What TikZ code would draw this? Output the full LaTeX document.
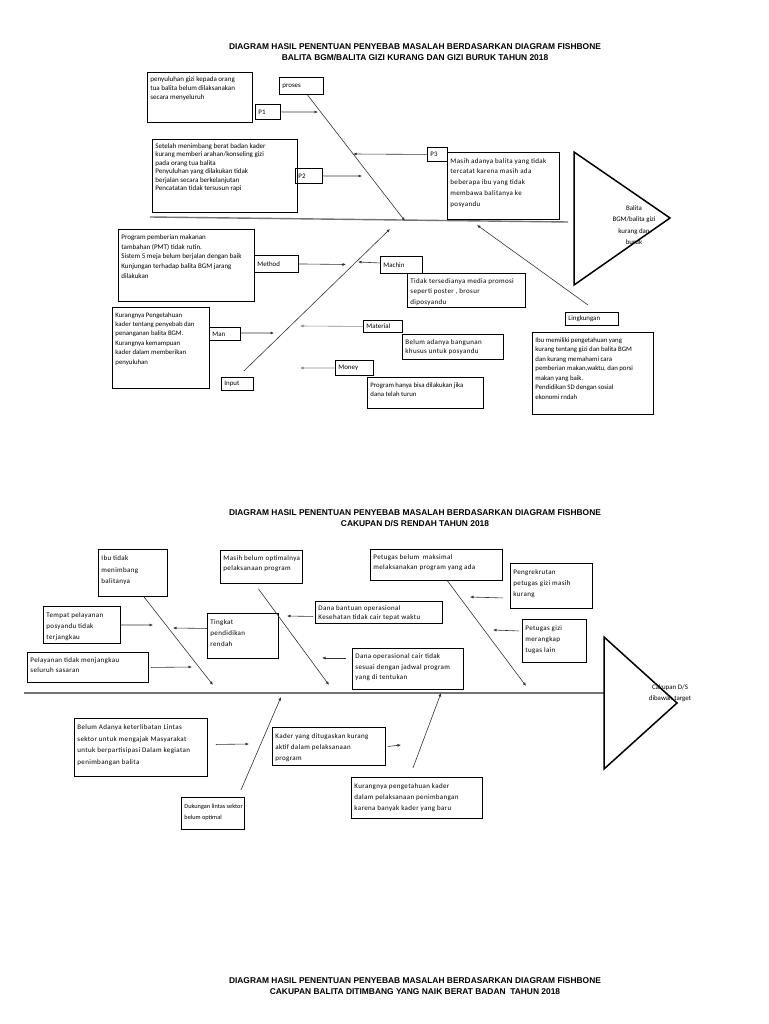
\documentclass[tikz,border=0pt]{standalone}
\usepackage{fontspec}
\setmainfont{Carlito}
\newfontfamily\titlefont{Liberation Sans}
\newfontfamily\spf[LetterSpace=5]{Carlito}
\usetikzlibrary{arrows.meta}
\newcommand\bt[5]{\parbox[c][\dimexpr#2pt-6pt\relax][t]{\dimexpr#1pt-6pt\relax}{\fontsize{#3}{#4}\selectfont\begin{tabular}[t]{@{}l@{}}#5\end{tabular}}}
\newcommand\bts[5]{\parbox[c][\dimexpr#2pt-6pt\relax][t]{\dimexpr#1pt-6pt\relax}{\spf\fontsize{#3}{#4}\selectfont\begin{tabular}[t]{@{}l@{}}#5\end{tabular}}}
\newcommand\lb[3]{\parbox[c][\dimexpr#2pt-6pt\relax][c]{\dimexpr#1pt-6pt\relax}{\fontsize{6.9}{9}\selectfont #3}}
\tikzset{
 bx/.style={draw=black, line width=0.9pt, inner sep=3pt, anchor=north west},
 arr/.style={draw=black!80, line width=0.6pt, -{Latex[length=3.5pt,width=3pt]}},
 garr/.style={draw=black!45, line width=0.6pt, -{Latex[length=3.5pt,width=3pt]}},
 spine/.style={draw=black!55, line width=1.4pt},
 tri/.style={draw=black, line width=1.5pt},
 ttl/.style={font=\titlefont\bfseries\fontsize{8.4}{11}\selectfont, align=center},
 tritext/.style={font=\fontsize{6.9}{11.5}\selectfont, align=center}
}
\begin{document}
\begin{tikzpicture}[x=1pt,y=-1pt]
\useasboundingbox[fill=white] (0,0) rectangle (768,1024);

% ---------- titles ----------
\node[ttl] (t1) at (415,52.5) {DIAGRAM HASIL PENENTUAN PENYEBAB MASALAH BERDASARKAN DIAGRAM FISHBONE\\BALITA BGM/BALITA GIZI KURANG DAN GIZI BURUK TAHUN 2018};
\node[ttl] (t2) at (415,518) {DIAGRAM HASIL PENENTUAN PENYEBAB MASALAH BERDASARKAN DIAGRAM FISHBONE\\CAKUPAN D/S RENDAH TAHUN 2018};
\node[ttl] (t3) at (415,986.5) {DIAGRAM HASIL PENENTUAN PENYEBAB MASALAH BERDASARKAN DIAGRAM FISHBONE\\CAKUPAN BALITA DITIMBANG YANG NAIK BERAT BADAN\ \ TAHUN 2018};

% ---------- top fishbone ----------
\coordinate (sA) at (150,217);
\coordinate (sB) at (568,222);
\draw[spine] (sA) -- (sB);
\draw[tri] (574,152) coordinate (h1) -- (670,218) coordinate (h2) -- (574,285) coordinate (h3) -- cycle;
\node[tritext] (head1) at (634,225) {Balita\\BGM/balita gizi\\kurang dan\\buruk};

\node[bx] (b1) at (147,72) {\bt{105}{50}{7}{9}{penyuluhan gizi kepada orang\\tua balita belum dilaksanakan\\secara menyeluruh}};
\node[bx] (proses) at (279,77) {\lb{44}{17}{proses}};
\node[bx] (P1) at (255,104) {\lb{25}{15}{P1}};
\node[bx] (b2) at (152,139) {\bt{145}{73}{7}{8.5}{Setelah menimbang berat badan kader\\kurang memberi arahan/konseling gizi\\pada orang tua balita\\Penyuluhan yang dilakukan tidak\\berjalan secara berkelanjutan\\Pencatatan tidak tersusun rapi}};
\node[bx] (P2) at (295,168) {\lb{27}{15}{P2}};
\node[bx] (P3) at (427,147) {\lb{20}{14}{P3}};
\node[bx] (b3) at (447,152) {\bts{112}{67}{7}{10.8}{Masih adanya balita yang tidak\\tercatat karena masih ada\\beberapa ibu yang tidak\\membawa balitanya ke\\posyandu}};

\node[bx] (b4) at (118,229) {\bt{136}{72}{7}{9.8}{Program pemberian makanan\\tambahan (PMT) tidak rutin.\\Sistem 5 meja belum berjalan dengan baik\\Kunjungan terhadap balita BGM jarang\\dilakukan}};
\node[bx] (method) at (254,255) {\lb{44}{17}{Method}};
\node[bx] (machin) at (380,256) {\lb{42}{17}{Machin}};
\node[bx] (b5) at (407,273) {\bts{118}{34}{7}{10.3}{Tidak tersedianya media promosi\\seperti poster , brosur\\diposyandu}};
\node[bx] (b6) at (112,307) {\bt{97}{81}{6.8}{9.4}{Kurangnya Pengetahuan\\kader tentang penyebab dan\\penanganan balita BGM.\\Kurangnya kemampuan\\kader dalam memberikan\\penyuluhan}};
\node[bx] (man) at (209,327) {\lb{31}{13}{Man}};
\node[bx] (material) at (363,320) {\lb{39}{12}{Material}};
\node[bx] (b7) at (402,334) {\bts{101}{25}{7}{9.5}{Belum adanya bangunan\\khusus untuk posyandu}};
\node[bx] (money) at (335,360) {\lb{38}{15}{Money}};
\node[bx] (input) at (221,377) {\lb{32}{13}{Input}};
\node[bx] (b8) at (367,377) {\bt{116}{31}{6.8}{9.5}{Program hanya bisa dilakukan jika\\dana telah turun}};
\node[bx] (lingk) at (565,312) {\lb{53}{13}{Lingkungan}};
\node[bx] (b9) at (532,332) {\bt{121}{82}{6.8}{9.5}{Ibu memiliki pengetahuan yang\\kurang tentang gizi dan balita BGM\\dan kurang memahami cara\\pemberian makan,waktu, dan porsi\\makan yang baik.\\Pendidikan SD dengan sosial\\ekonomi rndah}};

% bones top
\coordinate (e1) at (405,221);
\coordinate (e2) at (390,229);
\coordinate (e3) at (477,225);
\draw[arr] ([xshift=6pt]proses.south) -- (e1);
\draw[arr] ([yshift=6pt,xshift=-10pt]input.north east) -- (e2);
\draw[arr] ([xshift=-4pt,yshift=7pt]lingk.north) -- (e3);
\coordinate (a1) at (318,112);
\coordinate (a2) at (362,176);
\coordinate (a3) at (353,154);
\coordinate (a4) at (346,264.5);
\coordinate (a5) at (358,262);
\coordinate (a6) at (274,333);
\coordinate (a7) at (300,326);
\coordinate (a8) at (300,368);
\draw[arr] (P1.east) -- (a1);
\draw[arr] (P2.east) -- (a2);
\draw[arr] (P3.west) -- (a3);
\draw[arr] (method.east) -- (a4);
\draw[arr] ([yshift=2pt]machin.west) -- (a5);
\draw[arr] ([yshift=1pt]man.east) -- (a6);
\draw[garr] (material.west) -- (a7);
\draw[garr] (money.west) -- (a8);

% ---------- bottom fishbone ----------
\coordinate (sC) at (24,693);
\coordinate (sD) at (604,693);
\draw[spine] (sC) -- (sD);
\draw[tri] (604,637) coordinate (h4) -- (677,703) coordinate (h5) -- (604,769) coordinate (h6) -- cycle;
\node[tritext] (head2) at (670,693) {Cakupan D/S\\dibawah target};

\node[bx] (c1) at (98,549) {\bts{69}{47}{7}{11.5}{Ibu tidak\\menimbang\\balitanya}};
\node[bx] (c2) at (43,606) {\bts{77}{37}{7}{11}{Tempat pelayanan\\posyandu tidak\\terjangkau}};
\node[bx] (c3) at (27,652) {\bts{121}{30}{7}{10}{Pelayanan tidak menjangkau\\seluruh sasaran}};
\node[bx] (c4) at (207,613) {\bts{71}{45}{7}{11}{Tingkat\\pendidikan\\rendah}};
\node[bx] (c5) at (220,550) {\bts{82}{33}{7}{10}{Masih belum optimalnya\\pelaksanaan program}};
\node[bx] (c6) at (315,601) {\bts{127}{22}{7}{9}{Dana bantuan operasional\\Kesehatan tidak cair tepat waktu}};
\node[bx] (c7) at (352,648) {\bts{111}{41}{7}{10.5}{Dana operasional cair tidak\\sesuai dengan jadwal program\\yang di tentukan}};
\node[bx] (c8) at (370,549) {\bts{132}{31}{7}{10}{Petugas belum\ \ maksimal\\melaksanakan program yang ada}};
\node[bx] (c9) at (510,563) {\bts{82}{45}{7}{11}{Pengrekrutan\\petugas gizi masih\\kurang}};
\node[bx] (c10) at (522,619) {\bts{64}{43}{7}{11}{Petugas gizi\\merangkap\\tugas lain}};
\node[bx] (c12) at (74,718) {\bts{133}{58}{7}{11.5}{Belum Adanya keterlibatan Lintas\\sektor untuk mengajak Masyarakat\\untuk berpartisipasi Dalam kegiatan\\penimbangan balita}};
\node[bx] (c13) at (181,797) {\bt{63}{32}{6.3}{11}{Dukungan lintas sektor\\belum optimal}};
\node[bx] (c14) at (272,727) {\bts{113}{38}{7}{11}{Kader yang ditugaskan kurang\\aktif dalam pelaksanaan\\program}};
\node[bx] (c15) at (351,777) {\bts{131}{41}{7}{11}{Kurangnya pengetahuan kader\\dalam pelaksanaan penimbangan\\karena banyak kader yang baru}};

% bones bottom
\coordinate (f1) at (213,685);
\coordinate (f2) at (329,685);
\coordinate (f3) at (526,686);
\coordinate (f4) at (281,697);
\coordinate (f5) at (441,693);
\draw[arr] ([xshift=11pt]c1.south) -- (f1);
\draw[arr] ([xshift=-3pt,yshift=-5pt]c5.south) -- (f2);
\draw[arr] ([xshift=11pt]c8.south) -- (f3);
\draw[arr] ([xshift=28pt,yshift=7pt]c13.north) -- (f4);
\draw[arr] ([xshift=-4pt,yshift=9pt]c15.north) -- (f5);
\coordinate (g1) at (153,625);
\coordinate (g2) at (192,667);
\coordinate (g3) at (173,628);
\coordinate (g4) at (287,616);
\coordinate (g5) at (322,658);
\coordinate (g6) at (470,597);
\coordinate (g7) at (493,630);
\coordinate (g8) at (249,744);
\coordinate (g9) at (401,745);
\draw[arr] (c2.east) -- (g1);
\draw[arr] ([xshift=2pt]c3.east) -- (g2);
\draw[arr] ([yshift=7.5pt]c4.west) -- (g3);
\draw[arr] ([xshift=-2pt,yshift=-4pt]c6.west) -- (g4);
\draw[arr] ([xshift=-6pt,yshift=-10pt]c7.north west) -- (g5);
\draw[arr] ([xshift=-7pt,yshift=-12pt]c9.west) -- (g6);
\draw[arr] ([xshift=-3pt,yshift=10pt]c10.west) -- (g7);
\draw[arr] ([xshift=8pt,yshift=3pt]c12.east) -- (g8);
\draw[arr] ([xshift=2pt]c14.east) -- (g9);
\end{tikzpicture}
\end{document}
